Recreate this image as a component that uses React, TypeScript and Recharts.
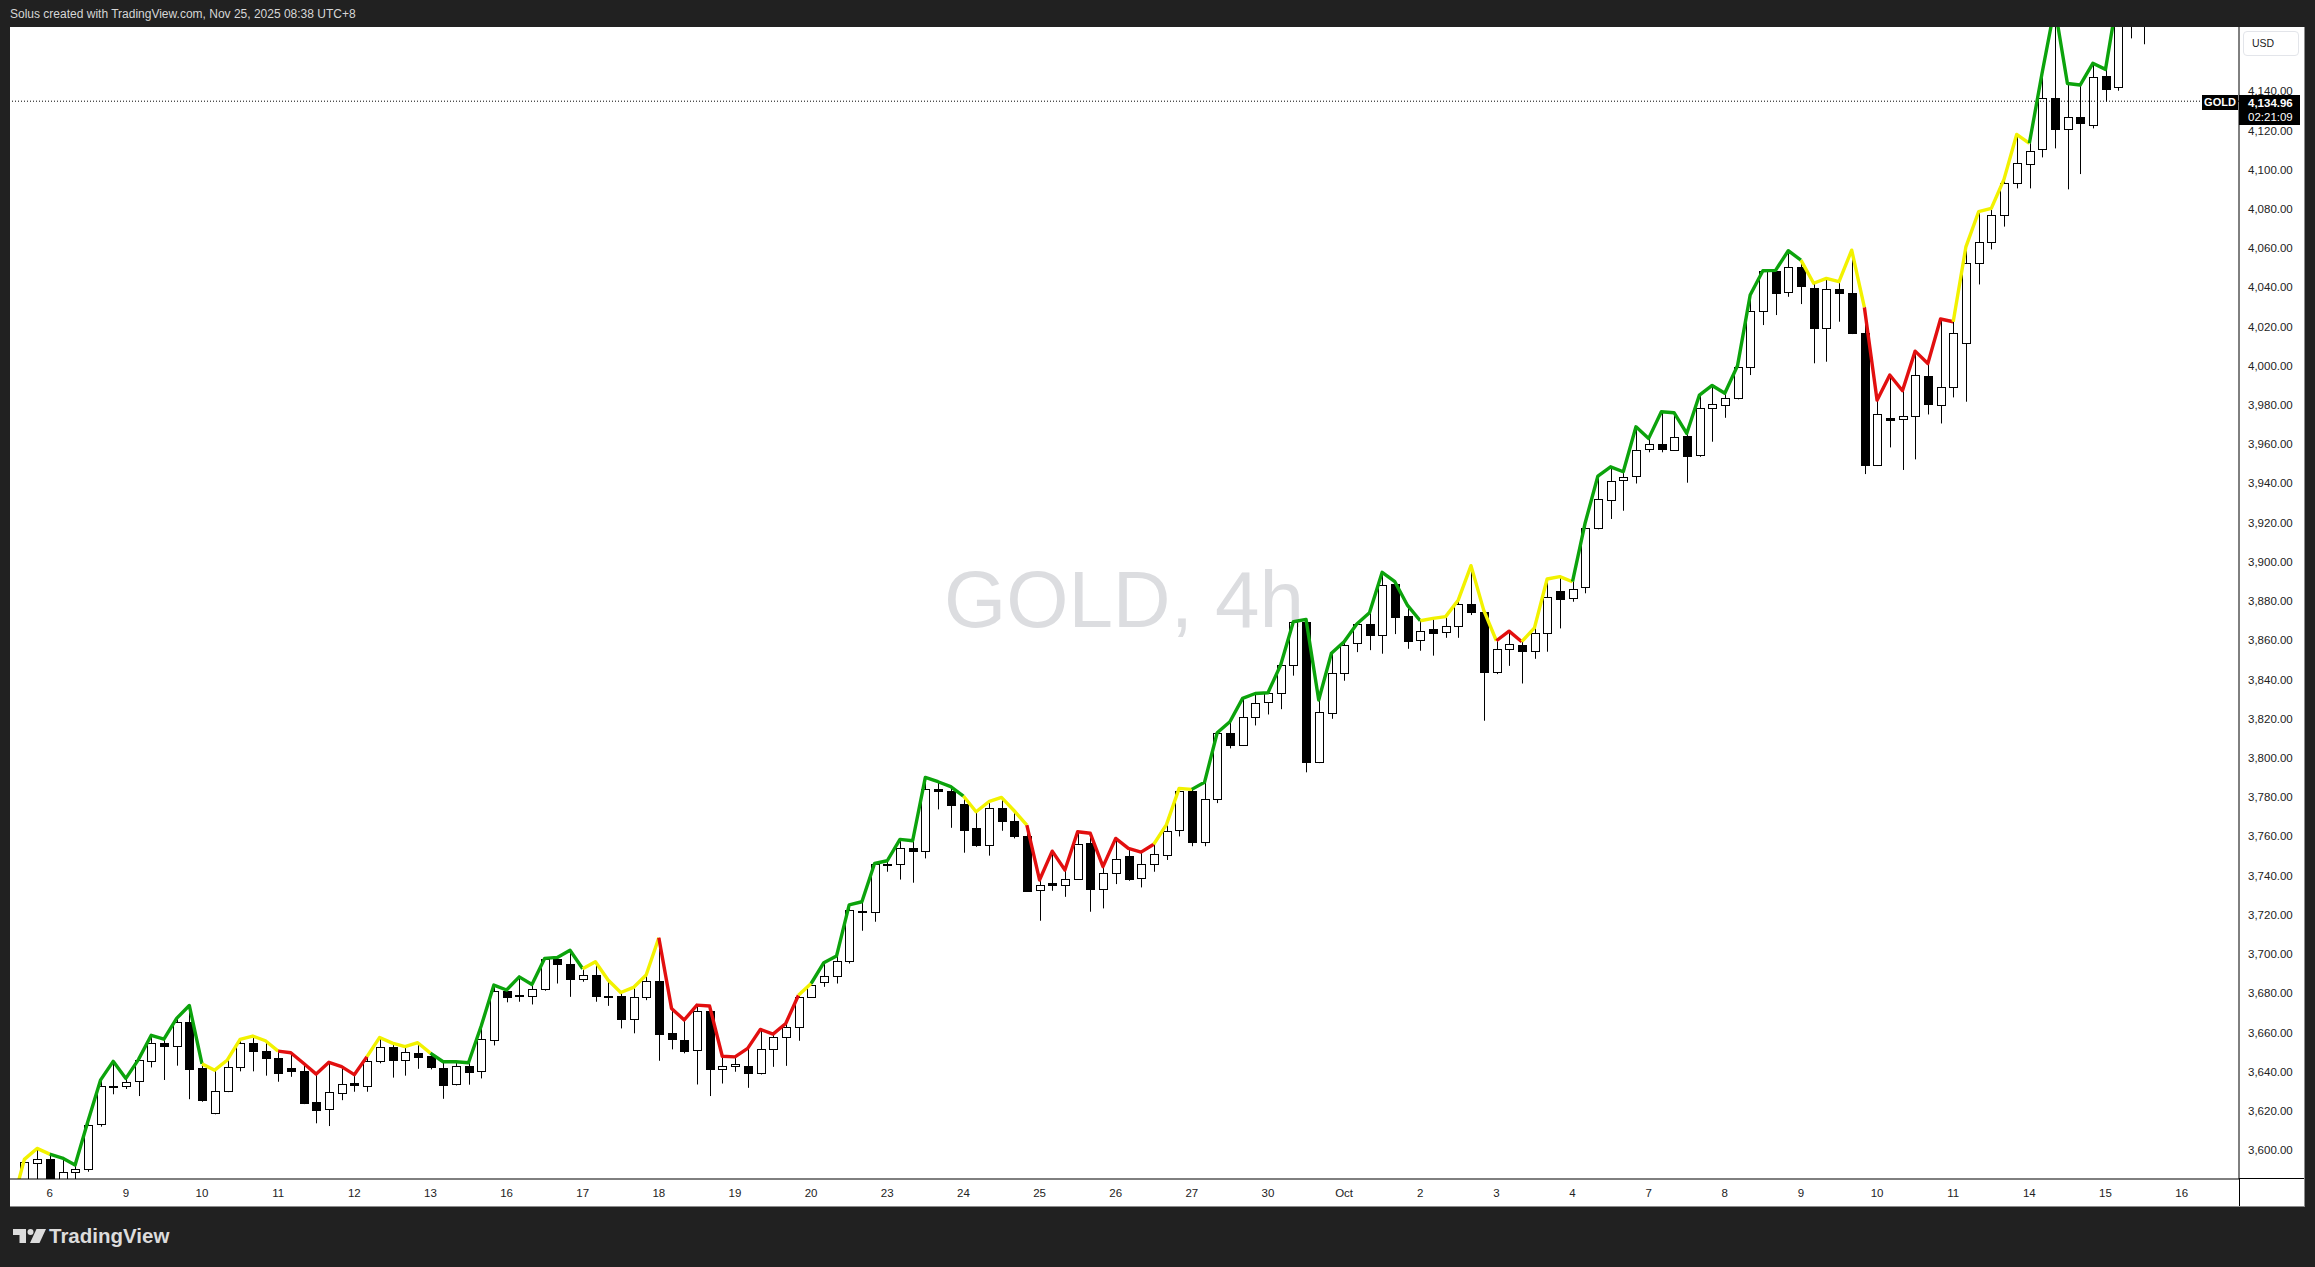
import React from 'react'
import { ComposedChart, Bar, Line, XAxis, YAxis, ReferenceLine } from 'recharts'

// GOLD 4h candles, Sep 5 - Oct 16 2025 (bar 0 is just off the left edge)
const opens = [
  3566, 3584, 3593.2, 3595.6, 3585.1, 3588.7, 3590.2, 3613.2, 3632.7, 3632.5,
  3634.9, 3645.3, 3654.5, 3652.9, 3665.3, 3641.7, 3618.8, 3630, 3642.2, 3654.5,
  3650.4, 3647, 3641.7, 3640.3, 3624.5, 3620.6, 3629.5, 3634.2, 3632.5, 3645.3,
  3652.4, 3645.8, 3649.5, 3648.1, 3641.9, 3633.5, 3642.9, 3640, 3656, 3681,
  3678.9, 3678.4, 3682, 3697.3, 3694.7, 3687.1, 3689.1, 3678.5, 3678.6, 3666.7,
  3677.9, 3686.2, 3659.6, 3656.2, 3651, 3670.9, 3641.2, 3642.7, 3642.7, 3639.2,
  3651.4, 3657.5, 3662.6, 3677.9, 3685.6, 3688.6, 3696.3, 3722.1, 3721.3, 3745.6,
  3745.7, 3753.9, 3752.4, 3784, 3783.1, 3776.3, 3764.1, 3755.4, 3774.3, 3767.8,
  3760.2, 3732.5, 3736, 3735, 3738.1, 3756.5, 3733, 3741.2, 3749.8, 3739,
  3746, 3751, 3763, 3783, 3757, 3779, 3813, 3806.6, 3820.7, 3828.3,
  3832.9, 3847.4, 3869.2, 3797.6, 3822.8, 3843.1, 3858.4, 3868.1, 3862.5, 3888.7,
  3872.4, 3859.8, 3865.8, 3864.1, 3867.1, 3878.3, 3874.3, 3843.5, 3855.1, 3857.4,
  3854.2, 3863.5, 3885.1, 3881.2, 3887, 3917.1, 3931.9, 3941.7, 3943.4, 3957.4,
  3960, 3957.4, 3964.2, 3954.2, 3978.3, 3980.3, 3983.7, 3999.6, 4028.1, 4048.5,
  4037.3, 4050.2, 4039.5, 4019.1, 4039, 4037, 4016.6, 3949.4, 3973.5, 3972.7,
  3974, 3994.8, 3980, 3989, 4011.5, 4052.3, 4063, 4076.9, 4093.1, 4103.3,
  4110.4, 4136.4, 4120.6, 4126.7, 4123.1, 4147.8, 4142, 4184, 4188,
]

const highs = [
  3571, 3595.3, 3600.9, 3598, 3596, 3592.4, 3614.5, 3635.7, 3645.3, 3636.6,
  3646.3, 3658.6, 3656.6, 3667.2, 3673.8, 3644, 3640.8, 3646, 3656.5, 3658.2,
  3655.8, 3650.5, 3649.7, 3644.3, 3638.8, 3644.8, 3642.6, 3638.5, 3647.7, 3657.5,
  3654.6, 3652.8, 3654.8, 3649.5, 3645.1, 3645.1, 3644.6, 3663.3, 3684.2, 3681.7,
  3688.4, 3684.5, 3697.8, 3698.3, 3702, 3692.5, 3696.1, 3686.8, 3680.4, 3683,
  3689.3, 3708.3, 3672.3, 3666.4, 3674, 3673.5, 3647.9, 3647.6, 3651.9, 3661.6,
  3659.2, 3664.6, 3679, 3685, 3695.6, 3699, 3725.1, 3726.7, 3746.2, 3747.6,
  3758.5, 3757.8, 3790.1, 3787.9, 3785.4, 3780.6, 3772.6, 3777.7, 3779.9, 3773.1,
  3765.8, 3737.8, 3752.5, 3742.9, 3762.4, 3761.6, 3744.6, 3759, 3753.9, 3752,
  3756, 3766, 3784.5, 3784, 3787.6, 3812.9, 3818.5, 3830.4, 3832.9, 3833.3,
  3847.4, 3869.5, 3870.7, 3829.6, 3853.4, 3859.3, 3868.3, 3874.1, 3894.7, 3889.9,
  3877.8, 3870, 3871.2, 3872.1, 3880.6, 3898.1, 3875.4, 3859.8, 3864.7, 3859.3,
  3866.4, 3891.3, 3892.5, 3889.9, 3920, 3943.8, 3948.5, 3946, 3968.9, 3963,
  3976.6, 3976.1, 3965.5, 3985.1, 3990, 3986, 4000, 4036.1, 4048.5, 4048.7,
  4058.7, 4053.9, 4042.1, 4044.6, 4042.9, 4059, 4029.8, 3982.5, 3995.3, 3987.3,
  4007.5, 4001.2, 4023.9, 4022.5, 4060.7, 4078.6, 4080.3, 4095.1, 4118, 4113.5,
  4149.2, 4183, 4144, 4143.2, 4154.3, 4151.2, 4190, 4195, 4198,
]

const lows = [
  3560, 3581, 3584, 3582, 3583, 3584, 3589, 3612, 3628.5, 3631.2,
  3627.6, 3642.2, 3635.8, 3643.1, 3626, 3624.7, 3618.3, 3629.6, 3640.2, 3640.2,
  3638, 3634.9, 3637.4, 3623.5, 3613.7, 3612.3, 3625.5, 3629.8, 3629.8, 3644.3,
  3637, 3638, 3641.5, 3641.2, 3626.2, 3633, 3633.4, 3636.6, 3653.4, 3675.4,
  3675.7, 3674.3, 3681.3, 3685, 3678.2, 3685.9, 3675.7, 3673.6, 3662.1, 3659.6,
  3676.5, 3645.6, 3651.4, 3649.4, 3633.5, 3627.6, 3634, 3640, 3631.8, 3638.6,
  3642.5, 3643, 3655.8, 3677.7, 3683.3, 3685, 3695.2, 3711.9, 3716.5, 3742,
  3738, 3736.4, 3748.8, 3773.8, 3764.4, 3751.7, 3754.7, 3750.2, 3762.9, 3759,
  3731.8, 3717, 3732.3, 3729.2, 3737.8, 3721.6, 3723.3, 3735.7, 3737.4, 3734,
  3742, 3748, 3760, 3755, 3755, 3777, 3804.9, 3806.1, 3816.6, 3822.2,
  3824.9, 3842, 3792.7, 3797.4, 3820, 3839.4, 3854, 3855, 3853.2, 3863.2,
  3855.7, 3854.7, 3852.2, 3861.3, 3861.3, 3872.9, 3819, 3842.8, 3847, 3838,
  3850.6, 3854.2, 3866.1, 3879.7, 3884, 3916.6, 3921.9, 3926.1, 3940, 3955.9,
  3955.9, 3957, 3940.4, 3953.6, 3961.3, 3973.5, 3982.9, 3995.3, 4020.8, 4025.9,
  4035.2, 4031.5, 4001.3, 4002.1, 4022.5, 4016.2, 3944.8, 3948.9, 3958.4, 3946.9,
  3952.3, 3975.2, 3970.6, 3983.9, 3981.7, 4041.5, 4059.4, 4071, 4090.5, 4090.5,
  4106.3, 4110.9, 4090, 4097.8, 4121.1, 4134.7, 4140.3, 4167, 4164,
]

const closes = [
  3569, 3593.8, 3595.3, 3583, 3588.7, 3590.2, 3612.6, 3632.5, 3632.3, 3634.6,
  3645.8, 3654.5, 3652.8, 3665.2, 3641.5, 3625.2, 3630, 3642.2, 3654.5, 3650.2,
  3646.6, 3639.1, 3640, 3624.2, 3620.6, 3629.5, 3634, 3633, 3645.3, 3652.4,
  3645.6, 3649.9, 3647.6, 3642.5, 3633.4, 3642.9, 3640, 3656.5, 3681, 3677.9,
  3678.4, 3682, 3697.3, 3694.7, 3687.1, 3689.1, 3678.2, 3678.2, 3667, 3677.9,
  3686.2, 3659, 3656.5, 3650.7, 3670.9, 3641.2, 3642.7, 3643.9, 3639.2, 3651.4,
  3657.5, 3662.6, 3677.9, 3684, 3688.6, 3696.3, 3722.3, 3721.8, 3745.7, 3746,
  3753.9, 3752.4, 3784, 3782.8, 3776.2, 3763.1, 3755.6, 3774.3, 3767.5, 3760.4,
  3732.3, 3735, 3734.9, 3738.1, 3755.9, 3733, 3741.2, 3748.3, 3738.1, 3746,
  3751, 3763, 3783, 3757, 3779, 3812.5, 3806.9, 3820.7, 3827.9, 3832.9,
  3847.2, 3869.2, 3797.6, 3823.3, 3843.1, 3857.4, 3868.1, 3862.3, 3888, 3872,
  3859.8, 3864.6, 3863.9, 3867.1, 3878.3, 3874.1, 3843.5, 3855.4, 3857.9, 3854.2,
  3863.5, 3881.9, 3881.2, 3886, 3917.1, 3931.9, 3941.4, 3943.4, 3956.9, 3960,
  3957.4, 3963.9, 3954.1, 3978.3, 3980.3, 3983.7, 3999.6, 4028.1, 4048.3, 4037.3,
  4050.2, 4040.4, 4019.1, 4039, 4037, 4016.6, 3949.1, 3975.2, 3972.7, 3974.4,
  3995.1, 3980.3, 3989, 4016.6, 4052.3, 4063, 4076.9, 4093.1, 4103.3, 4109.7,
  4136.4, 4120.6, 4126.7, 4123.7, 4147.4, 4141.3, 4184, 4188, 4183,
]

// colour of the high-line segment ending at each bar (G green, Y yellow, R red)
const trend = (
  '- YYY GGGGGGGGGGGG YYYYYY RRRRRRR YYYYY GGGGGGGGGGGG YYYYYY RRRRRRRRRRR Y ' +
  'GGGGGGGGGGGG YYYYY RRRRRRRRRR YYY GGGGGGGGGGGGGGGGGG YYYYYY RR YYYY ' +
  'GGGGGGGGGGGGGGGGGG YYYYY RRRRRRR YYYYYY GGGGGGGGG'
).replace(/ /g, '').split('')

const dayTicks = [3, 9, 15, 21, 27, 33, 39, 45, 51, 57, 63, 69, 75, 81, 87, 93, 99, 105, 111, 117, 123, 129, 135, 141, 147, 153, 159, 165, 171]
const dayLabels = ['6', '9', '10', '11', '12', '13', '16', '17', '18', '19', '20', '23', '24', '25', '26', '27', '30', 'Oct', '2', '3', '4', '7', '8', '9', '10', '11', '14', '15', '16']
const priceTicks = [3600, 3620, 3640, 3660, 3680, 3700, 3720, 3740, 3760, 3780, 3800, 3820, 3840, 3860, 3880, 3900, 3920, 3940, 3960, 3980, 4000, 4020, 4040, 4060, 4080, 4100, 4120, 4140]
const lastPrice = 4134.96

const trendColors: Record<string, string> = { G: '#0ca30c', Y: '#f2f200', R: '#e20f0f' }

// group consecutive segments of one colour into separate line series
const runs: { color: string; start: number; end: number }[] = []
for (let i = 1; i < highs.length; i++) {
  const last = runs[runs.length - 1]
  if (last && last.color === trend[i] && last.end === i - 1) last.end = i
  else runs.push({ color: trend[i], start: i - 1, end: i })
}

const rows = highs.map((h, i) => {
  const row: Record<string, any> = {
    i,
    open: opens[i],
    high: h,
    low: lows[i],
    close: closes[i],
    range: [lows[i], h],
  }
  runs.forEach((r, k) => {
    row['run' + k] = i >= r.start && i <= r.end ? h : null
  })
  return row
})

function Candle(props: any) {
  const { x, y, width, height, payload } = props
  if (x == null || y == null) return null
  const cx = Math.round(x + width / 2)
  const top = Math.min(y, y + height)
  const span = Math.abs(height)
  const rng = payload.high - payload.low || 1
  const toY = (v: number) => top + ((payload.high - v) / rng) * span
  const yo = toY(payload.open)
  const yc = toY(payload.close)
  const bTop = Math.round(Math.min(yo, yc)) + 0.5
  const bH = Math.max(Math.round(Math.abs(yc - yo)), 1)
  const up = payload.close >= payload.open
  return (
    <g>
      <line x1={cx + 0.5} x2={cx + 0.5} y1={top} y2={top + span} stroke="#000" strokeWidth={1} />
      <rect x={cx - 3.5} y={bTop} width={8} height={bH} fill={up ? '#fff' : '#000'} stroke="#000" strokeWidth={1} />
    </g>
  )
}

const PriceTick = (p: any) => (
  <text x={p.x + 9} y={p.y} dominantBaseline="central" fontSize={11.5} fill="#222">
    {Number(p.payload.value).toLocaleString('en-US', { minimumFractionDigits: 2, maximumFractionDigits: 2 })}
  </text>
)

const DayTick = (p: any) => {
  const idx = dayTicks.indexOf(p.payload.value)
  return (
    <text x={p.x} y={p.y + 14} textAnchor="middle" dominantBaseline="central" fontSize={11.5} fill="#222">
      {dayLabels[idx]}
    </text>
  )
}

export default function App() {
  return (
    <div
      style={{
        position: 'absolute',
        left: 0,
        top: 0,
        width: 2315,
        height: 1267,
        background: '#212121',
        overflow: 'hidden',
        fontFamily: '"Liberation Sans", Arial, sans-serif',
      }}
    >
      <div style={{ position: 'absolute', left: 10, top: 8, fontSize: 12, lineHeight: '12px', color: '#d6d6d6', whiteSpace: 'nowrap' }}>
        Solus created with TradingView.com, Nov 25, 2025 08:38 UTC+8
      </div>

      <div style={{ position: 'absolute', left: 10, top: 27, width: 2294, height: 1179, background: '#fff', borderRight: '1px solid #8c8c8c', borderBottom: '1px solid #8c8c8c' }} />

      <div
        style={{
          position: 'absolute',
          left: 624,
          top: 560,
          width: 1000,
          textAlign: 'center',
          fontSize: 80,
          lineHeight: '80px',
          color: '#dcdde0',
          whiteSpace: 'nowrap',
        }}
      >
        GOLD, 4h
      </div>

      <div style={{ position: 'absolute', left: 10, top: 27 }}>
        <ComposedChart width={2294} height={1179} data={rows} margin={{ top: 0, right: 0, bottom: 0, left: 0 }}>
          <XAxis
            dataKey="i"
            type="number"
            domain={[-0.13, 175.52]}
            allowDataOverflow
            ticks={dayTicks}
            interval={0}
            height={27}
            tickLine={false}
            tickSize={0}
            tickMargin={0}
            axisLine={{ stroke: '#000', strokeWidth: 1 }}
            tick={<DayTick />}
          />
          <YAxis
            orientation="right"
            type="number"
            domain={[3585.3, 4172.8]}
            allowDataOverflow
            ticks={priceTicks}
            interval={0}
            width={65}
            tickLine={false}
            tickSize={0}
            tickMargin={0}
            axisLine={{ stroke: '#000', strokeWidth: 1 }}
            tick={<PriceTick />}
          />
          <ReferenceLine y={lastPrice} stroke="#000" strokeWidth={1} strokeDasharray="1 2" />
          <Bar dataKey="range" barSize={9} isAnimationActive={false} shape={<Candle />} />
          {runs.map((r, k) => (
            <Line
              key={k}
              dataKey={'run' + k}
              stroke={trendColors[r.color]}
              strokeWidth={3.4}
              dot={false}
              activeDot={false}
              connectNulls={false}
              isAnimationActive={false}
              strokeLinejoin="round"
            />
          ))}
        </ComposedChart>
      </div>

      {/* axis corner lines */}
      <div style={{ position: 'absolute', left: 2239, top: 1178, width: 65, height: 1, background: '#000' }} />
      <div style={{ position: 'absolute', left: 2239, top: 1178, width: 1, height: 28, background: '#000' }} />

      {/* currency box */}
      <div
        style={{
          position: 'absolute',
          left: 2243,
          top: 31,
          width: 56,
          height: 25,
          boxSizing: 'border-box',
          border: '1px solid #e3e5ea',
          borderRadius: 4,
          background: '#fff',
          fontSize: 10.5,
          lineHeight: '23px',
          paddingLeft: 8,
          color: '#222',
        }}
      >
        USD
      </div>

      {/* last price labels */}
      <div
        style={{
          position: 'absolute',
          left: 2202,
          top: 95,
          width: 36,
          height: 15,
          background: '#000',
          color: '#fff',
          fontSize: 11,
          fontWeight: 700,
          lineHeight: '15px',
          textAlign: 'center',
        }}
      >
        GOLD
      </div>
      <div
        style={{
          position: 'absolute',
          left: 2239,
          top: 95,
          width: 61,
          height: 30,
          background: '#000',
          color: '#fff',
          fontSize: 11.5,
          fontWeight: 700,
          lineHeight: '14px',
          paddingLeft: 9,
          boxSizing: 'border-box',
          paddingTop: 1,
        }}
      >
        <div>{lastPrice.toLocaleString('en-US', { minimumFractionDigits: 2 })}</div>
        <div style={{ fontWeight: 400 }}>02:21:09</div>
      </div>

      {/* TradingView brand */}
      <svg style={{ position: 'absolute', left: 0, top: 1220 }} width={220} height={40}>
        <path d="M13 9 H26 V23 H19.5 V15 H13 Z" fill="#dcdcdc" />
        <circle cx={30.5} cy={12} r={3} fill="#dcdcdc" />
        <path d="M36.5 9 H46 L39.5 23 H30 Z" fill="#dcdcdc" />
        <text x={49} y={23} fontSize={20.5} fontWeight={600} fill="#dcdcdc" fontFamily='"Liberation Sans", Arial, sans-serif'>
          TradingView
        </text>
      </svg>
    </div>
  )
}
